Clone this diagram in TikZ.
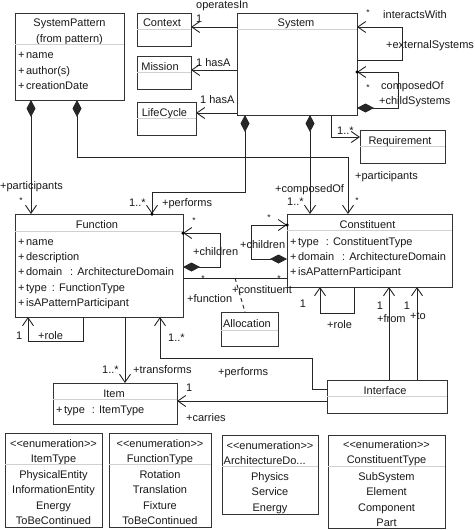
\documentclass[tikz,border=0pt]{standalone}
\usepackage{fontspec}
\setmainfont{Liberation Sans}
\usetikzlibrary{arrows.meta}
\newcommand{\enumhead}{<\kern0pt<enumeration>\kern0pt>}
\begin{document}
\begin{tikzpicture}[x=1pt,y=-1pt,
  ln/.style={line width=0.9pt, draw=black!85},
  box/.style={draw=black!80, line width=1pt, rectangle, anchor=north west, inner sep=0pt, outer sep=0pt},
  t/.style={font=\fontsize{11pt}{13pt}\selectfont, inner sep=0pt, text=black!90},
  tc/.style={t, anchor=base},
  tl/.style={t, anchor=base west},
  st/.style={font=\fontsize{8.5pt}{10pt}\selectfont, inner sep=0pt, text=black!90, anchor=base},
  sepl/.style={draw=black!18, line width=0.6pt},
  oa/.style={-{Straight Barb[length=8pt,width=11pt]}},
  diaoa/.style={{Diamond[length=17pt,width=9pt]}-{Straight Barb[length=8pt,width=11pt]}},
  own/.style={circle, fill=black, inner sep=0pt, minimum size=3.5pt},
]
\fill[white] (0,0) rectangle (474,530);
\useasboundingbox (0,0) rectangle (474,530);

% ---------- boxes ----------
\node[box, minimum width=109pt, minimum height=87pt] (sp) at (15,13) {};
\node[tc] (spT) at (69.5,27) {SystemPattern};
\node[tc] (spT2) at (69.5,42) {(from pattern)};
\draw[sepl] (sp.west|-0,44) -- (sp.east|-0,44);
\node[tl] (spA1) at (18,58) {+\kern1.5pt name};
\node[tl] (spA2) at (18,74) {+\kern1.5pt author(s)};
\node[tl] (spA3) at (18,89) {+\kern1.5pt creationDate};

\node[box, minimum width=54pt, minimum height=33pt] (ctx) at (137,13) {};
\node[tc] (ctxT) at (162,27) {Context};
\draw[sepl] (ctx.west|-0,29) -- (ctx.east|-0,29);

\node[box, minimum width=54pt, minimum height=33pt] (mis) at (137,56) {};
\node[tc] (misT) at (160,70) {Mission};
\draw[sepl] (mis.west|-0,72) -- (mis.east|-0,72);

\node[box, minimum width=59pt, minimum height=33pt] (lc) at (137,102) {};
\node[tc] (lcT) at (164.5,116) {LifeCycle};
\draw[sepl] (lc.west|-0,118) -- (lc.east|-0,118);

\node[box, minimum width=120pt, minimum height=102pt] (sys) at (237,13) {};
\node[tc] (sysT) at (296,27) {System};
\draw[sepl] (sys.west|-0,29) -- (sys.east|-0,29);

\node[box, minimum width=85pt, minimum height=33pt] (req) at (360,130) {};
\node[tc] (reqT) at (400,144) {Requirement};
\draw[sepl] (req.west|-0,146) -- (req.east|-0,146);

\node[box, minimum width=168pt, minimum height=103pt] (fn) at (15,214) {};
\node[tc] (fnT) at (97,228) {Function};
\draw[sepl] (fn.west|-0,231) -- (fn.east|-0,231);
\node[tl] (fnA1) at (18,245) {+\kern1.5pt name};
\node[tl] (fnA2) at (18,260) {+\kern1.5pt description};
\node[tl] (fnA3) at (18,275) {+\kern1.5pt domain\hspace{8pt}: ArchitectureDomain};
\node[tl] (fnA4) at (18,291) {+\kern1.5pt type\hspace{5pt}: FunctionType};
\node[tl] (fnA5) at (18,306) {+\kern1.5pt isAPatternParticipant};

\node[box, minimum width=165pt, minimum height=73pt] (con) at (287,214) {};
\node[tc] (conT) at (367.5,228) {Constituent};
\draw[sepl] (con.west|-0,230) -- (con.east|-0,230);
\node[tl] (conA1) at (290,245) {+\kern1.5pt type\hspace{7pt}: ConstituentType};
\node[tl] (conA2) at (290,260) {+\kern1.5pt domain\hspace{8pt}: ArchitectureDomain};
\node[tl] (conA3) at (290,275) {+\kern1.5pt isAPatternParticipant};

\node[box, minimum width=57pt, minimum height=34pt] (alloc) at (221,312) {};
\node[tc] (allocT) at (247,327) {Allocation};
\draw[sepl] (alloc.west|-0,330) -- (alloc.east|-0,330);

\node[box, minimum width=120pt, minimum height=33pt] (intf) at (327,380) {};
\node[tc] (intfT) at (385,394) {Interface};
\draw[sepl] (intf.west|-0,396) -- (intf.east|-0,396);

\node[box, minimum width=124pt, minimum height=41pt] (item) at (53,383) {};
\node[tc] (itemT) at (114,397) {Item};
\draw[sepl] (item.west|-0,399) -- (item.east|-0,399);
\node[tl] (itemA1) at (56,413) {+\kern1.5pt type\hspace{7pt}: ItemType};

% ---------- enumerations ----------
\node[box, minimum width=97pt, minimum height=94pt] (e1) at (5,433) {};
\node[tc] (e1a) at (53.5,447) {\enumhead};
\node[tc] (e1b) at (53.5,462) {ItemType};
\draw[sepl] (e1.west|-0,464) -- (e1.east|-0,464);
\node[tc] (e1c) at (53.5,478) {PhysicalEntity};
\node[tc] (e1d) at (53.5,493) {InformationEntity};
\node[tc] (e1e) at (53.5,509) {Energy};
\node[tc] (e1f) at (53.5,524) {ToBeContinued};

\node[box, minimum width=102pt, minimum height=94pt] (e2) at (109,433) {};
\node[tc] (e2a) at (160,447) {\enumhead};
\node[tc] (e2b) at (160,462) {FunctionType};
\draw[sepl] (e2.west|-0,464) -- (e2.east|-0,464);
\node[tc] (e2c) at (160,478) {Rotation};
\node[tc] (e2d) at (160,493) {Translation};
\node[tc] (e2e) at (160,509) {Fixture};
\node[tc] (e2f) at (160,524) {ToBeContinued};

\node[box, minimum width=96pt, minimum height=79pt] (e3) at (222,435) {};
\node[tc] (e3a) at (270,449) {\enumhead};
\node[tl] (e3b) at (223.5,464) {ArchitectureDo...};
\draw[sepl] (e3.west|-0,466) -- (e3.east|-0,466);
\node[tc] (e3c) at (270,480) {Physics};
\node[tc] (e3d) at (270,495) {Service};
\node[tc] (e3e) at (270,511) {Energy};

\node[box, minimum width=117pt, minimum height=93pt] (e4) at (328,435) {};
\node[tc] (e4a) at (386.5,448) {\enumhead};
\node[tc] (e4b) at (386.5,463) {ConstituentType};
\draw[sepl] (e4.west|-0,466) -- (e4.east|-0,466);
\node[tc] (e4c) at (386.5,480) {SubSystem};
\node[tc] (e4d) at (386.5,495) {Element};
\node[tc] (e4e) at (386.5,511) {Component};
\node[tc] (e4f) at (386.5,526) {Part};

% ---------- connectors ----------
\draw[ln,oa] (sys.west|-0,27) -- (ctx.east|-0,27);
\node[tl] (lOp) at (196,9) {operatesIn};
\node[tl] (lOp1) at (196,22) {1};

\draw[ln,oa] (sys.west|-0,70) -- (mis.east|-0,70);
\node[tl] (lMis) at (196,66) {1 hasA};

\draw[ln,oa] (sys.west|-0,113) -- (lc.east|-0,113);
\node[tl] (lLc) at (200,103) {1 hasA};

\draw[ln,oa] (sys.east|-0,60) -- (402,60) -- (402,27) -- (sys.east|-0,27);
\node[st] (lIw0) at (368,15) {*};
\node[tl] (lIw) at (383,19) {interactsWith};
\node[tl] (lIw2) at (386,48) {+externalSystems};

\draw[ln,diaoa] (sys.east|-0,108) -- (398,108) -- (398,72) -- (sys.east|-0,72);
\node[own] (o1) at (sys.east|-0,72) {};
\node[st] (lCo0) at (368,90) {*};
\node[tl] (lCo) at (381,89) {composedOf};
\node[tl] (lCo2) at (379,104) {+childSystems};

\draw[ln,oa] (331,0|-sys.south) -- (331,137) -- (req.west|-0,137);
\node[tl] (lReq) at (337,134) {1..*};

\draw[ln,diaoa] (245,0|-sys.south) -- (245,192) -- (152,192) -- (152,0|-fn.north);
\node[own] (o2) at (152,0|-fn.north) {};
\node[tl] (lPf1) at (129,206) {1..*};
\node[tl] (lPf2) at (162,206) {+performs};

\draw[ln,diaoa] (310,0|-sys.south) -- (310,0|-con.north);
\node[tl] (lSc1) at (275,192) {+composedOf};
\node[tl] (lSc2) at (287,205) {1..*};

\draw[ln,diaoa] (31,0|-sp.south) -- (31,0|-fn.north);
\node[tl] (lPa1) at (0,189) {+participants};
\node[st] (lPa2) at (21,203) {*};

\draw[ln,diaoa] (77,0|-sp.south) -- (77,157) -- (348,157) -- (348,0|-con.north);
\node[tl] (lPb1) at (355,179) {+participants};
\node[st] (lPb2) at (357,203) {*};

\draw[ln,diaoa] (fn.east|-0,267) -- (220,267) -- (220,233) -- (fn.east|-0,233);
\node[own] (o3) at (fn.east|-0,233) {};
\node[st] (lFc0) at (194,223) {*};
\node[tl] (lFc) at (193,255) {+children};

\draw[ln] (fn.east|-0,278) -- (con.west|-0,278);
\coordinate (ac) at (235,278);
\draw[ln,dash pattern=on 4pt off 3pt] (ac) -- (245,0|-alloc.north);
\node[st] (lFn0) at (203,281) {*};
\node[st] (lCn0) at (279,281) {*};
\node[tl] (lFn) at (187,302) {+function};
\node[tl] (lCn) at (232,293) {+constituent};

\draw[ln,diaoa] (con.west|-0,259) -- (251,259) -- (251,225) -- (con.west|-0,225);
\node[own] (o4) at (con.west|-0,225) {};
\node[st] (lCc0) at (269,220) {*};
\node[tl] (lCc) at (240,248) {+children};

\draw[ln,oa] (354,0|-con.south) -- (354,313) -- (320,313) -- (320,0|-con.south);
\node[tc] (lCr1) at (303,307) {1};
\node[tl] (lCr2) at (327,328) {+role};

\draw[ln,oa] (389,0|-intf.north) -- (389,0|-con.south);
\node[tc] (lFr1) at (380,309) {1};
\node[tl] (lFr2) at (377,322) {+from};
\draw[ln,oa] (417,0|-intf.north) -- (417,0|-con.south);
\node[tc] (lTo1) at (407,309) {1};
\node[tl] (lTo2) at (410,319) {+to};

\draw[ln,oa] (intf.west|-0,389) -- (312,389) -- (312,358) -- (160,358) -- (160,0|-fn.south);
\node[tl] (lIp1) at (168,341) {1..*};
\node[tl] (lIp2) at (218,375) {+performs};

\draw[ln,oa] (83,0|-fn.south) -- (83,341) -- (28,341) -- (28,0|-fn.south);
\node[tl] (lFr) at (16,339) {1};
\node[tl] (lFr3) at (38,339) {+role};

\draw[ln,oa] (125,0|-fn.south) -- (125,0|-item.north);
\node[tl] (lTr1) at (102,373) {1..*};
\node[tl] (lTr2) at (133,373) {+transforms};

\draw[ln,oa] (intf.west|-0,401) -- (item.east|-0,401);
\node[tl] (lCa1) at (186,391) {1};
\node[tl] (lCa2) at (186,421) {+carries};

\end{tikzpicture}
\end{document}
